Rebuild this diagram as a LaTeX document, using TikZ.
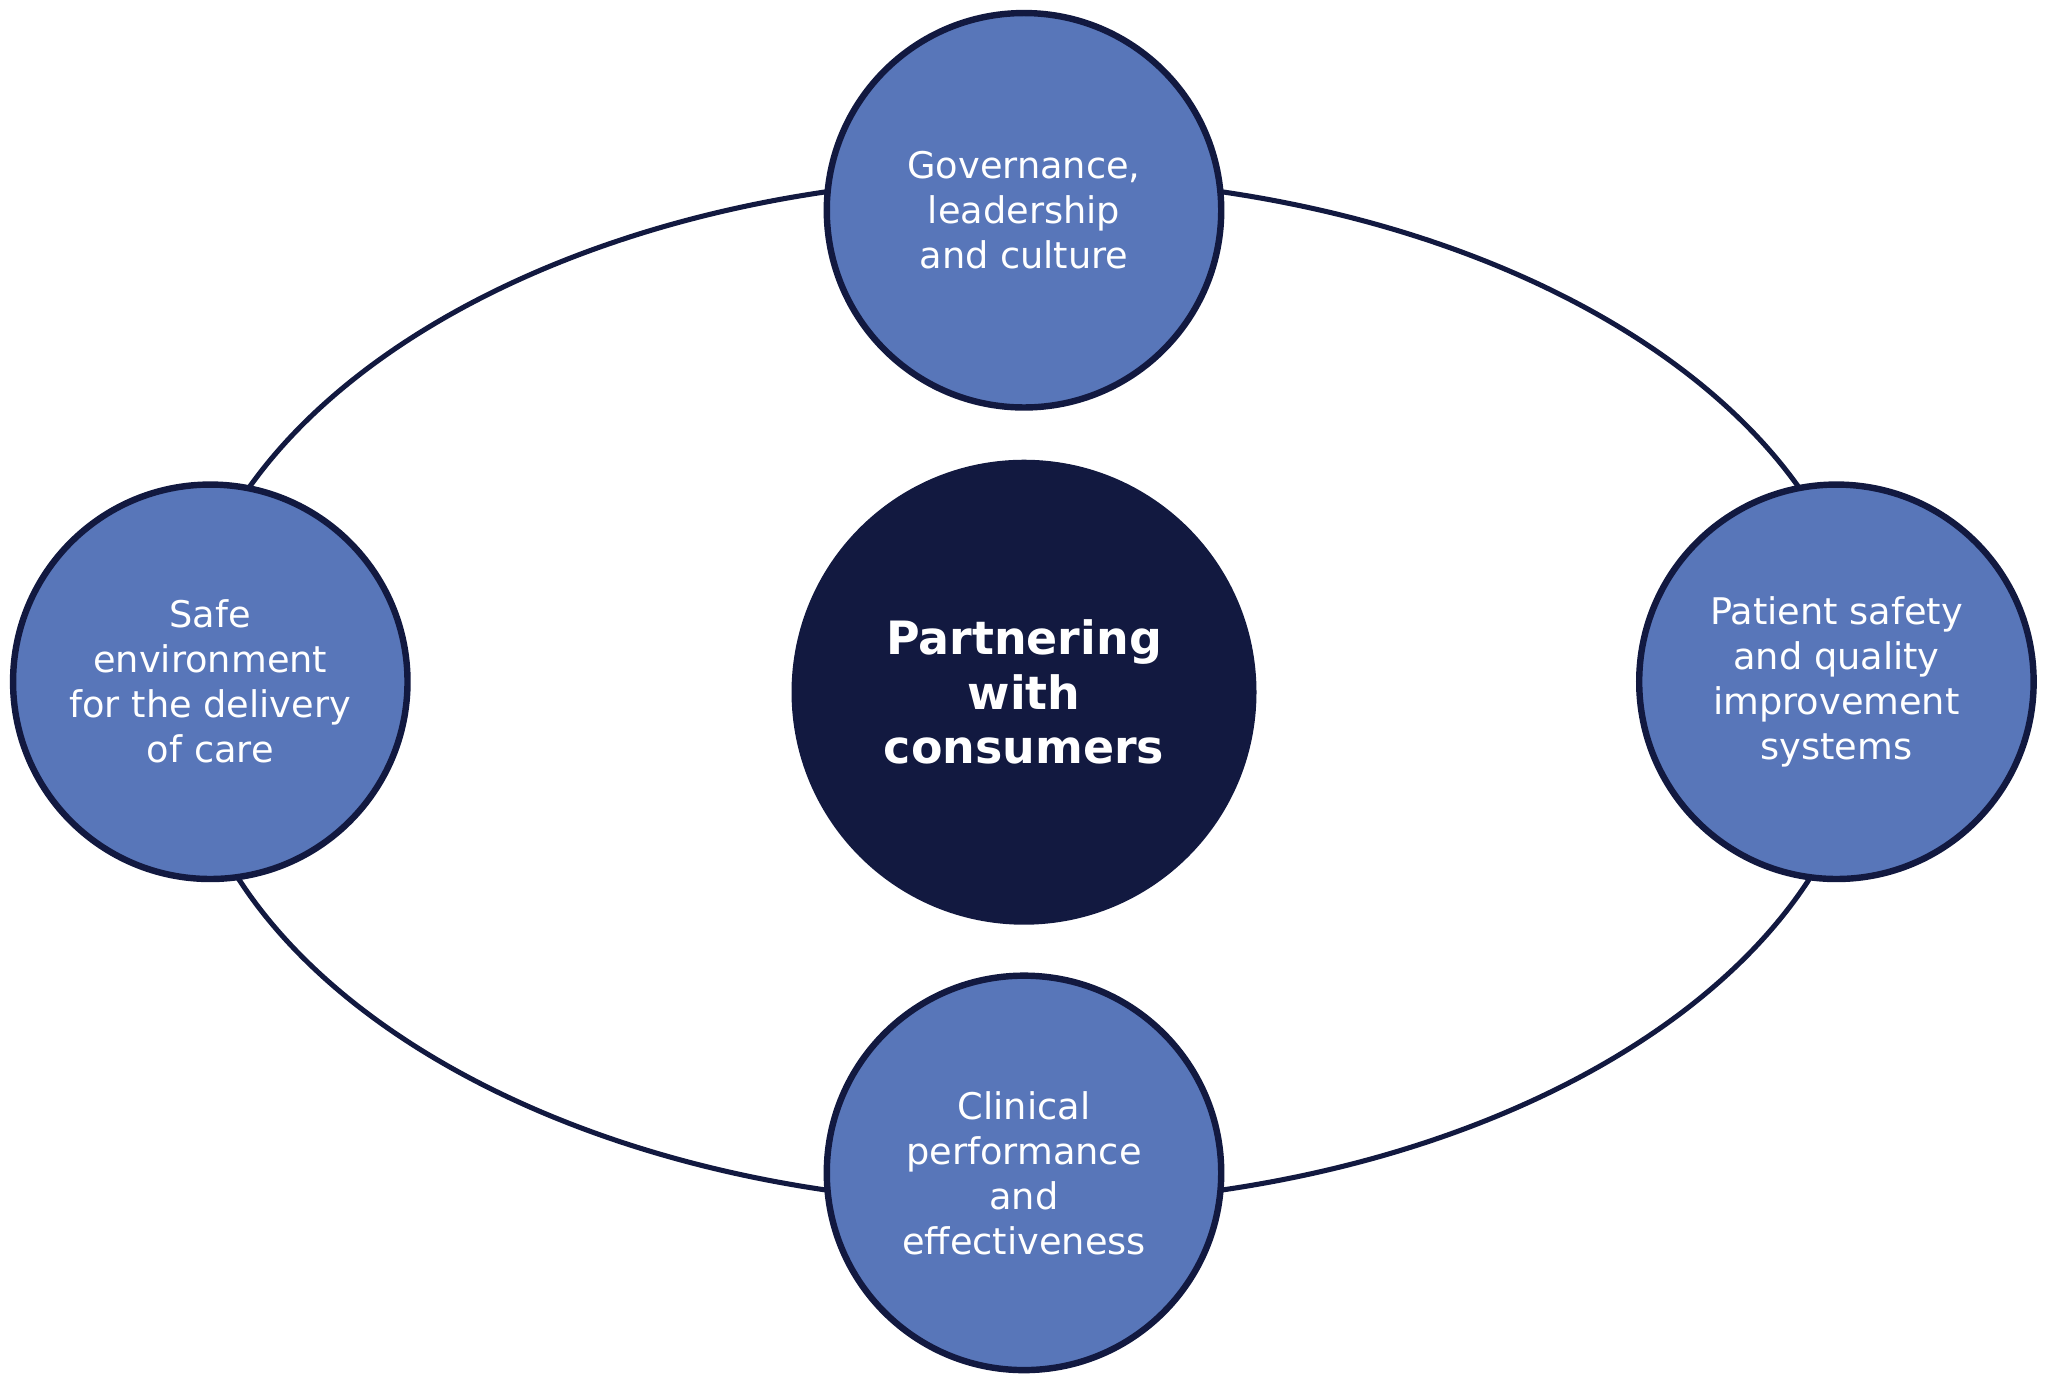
\documentclass[tikz,border=0pt]{standalone}
\usepackage{fontspec}
\setmainfont{DejaVu Sans}
\usepackage{tikz}
\usetikzlibrary{positioning}
\definecolor{bleu}{RGB}{88,118,185}
\definecolor{marine}{RGB}{18,25,64}

\begin{document}
\begin{tikzpicture}[
	pilier/.style={circle, draw=marine, line width=1.4pt, fill=bleu,
		minimum size=3.02cm, inner sep=0pt, text=white, align=center,
		font=\fontsize{8}{9.8}\selectfont},
	coeur/.style={circle, fill=marine, minimum size=3.56cm, inner sep=0pt,
		text=white, align=center, font=\fontsize{10}{11.9}\selectfont\bfseries}
	]
	\useasboundingbox (0,0) rectangle (15.68,10.60);
	
	% anneau qui relie les quatre piliers
	\draw[marine, line width=1.1pt] (7.84,5.31) ellipse (6.46cm and 3.93cm);
	
	% centre
	\node[coeur] (partner) at (7.84,5.30) {Partnering\\with\\consumers};
	
	% les quatre piliers
	\node[pilier] (gov) at (7.84,8.99) {Governance,\\leadership\\and culture};
	\node[pilier] (safe) at (1.61,5.38) {Safe\\environment\\for the delivery\\of care};
	\node[pilier] (patient) at (14.06,5.38) {Patient safety\\and quality\\improvement\\systems};
	\node[pilier] (clin) at (7.84,1.62) {Clinical\\performance\\and\\effectiveness};
\end{tikzpicture}
\end{document}
